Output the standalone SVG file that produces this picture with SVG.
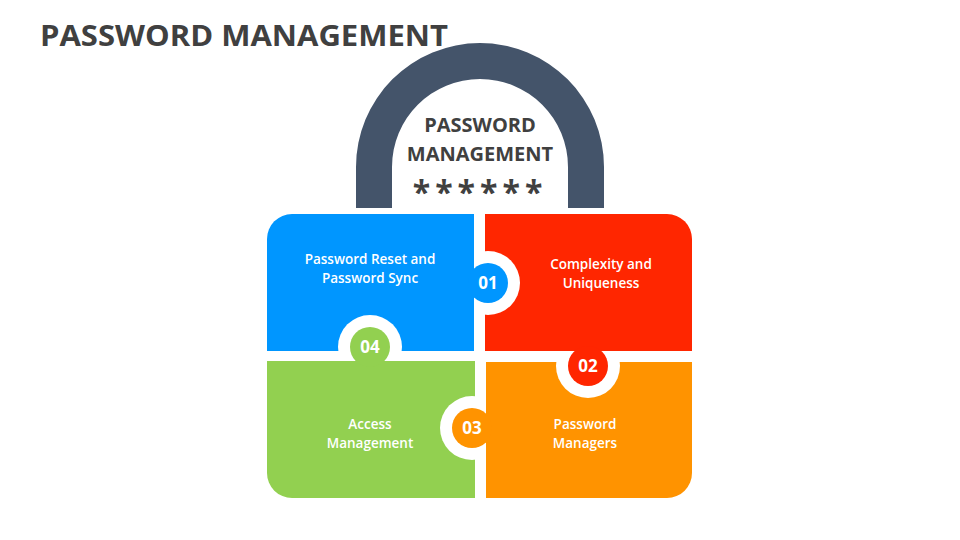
<svg xmlns="http://www.w3.org/2000/svg" width="960" height="540" viewBox="0 0 960 540">
<style>
.t{font-family:"Open Sans","Liberation Sans",sans-serif;font-weight:bold;fill:#404040;text-anchor:middle}
.l{font-family:"Open Sans","Liberation Sans",sans-serif;font-weight:600;fill:#fff;font-size:13.5px;text-anchor:middle}
.n{font-family:"Open Sans","Liberation Sans",sans-serif;font-weight:bold;fill:#fff;font-size:17px;text-anchor:middle}
</style>
<rect width="960" height="540" fill="#fff"/>
<text x="40" y="46" class="t" style="text-anchor:start;font-size:29px" textLength="408" lengthAdjust="spacingAndGlyphs">PASSWORD MANAGEMENT</text>
<g id="shackle">
<path d="M356 208 V167 A124 124 0 0 1 604 167 V208 H568 V167 A88 88 0 0 0 392 167 V208 Z" fill="#44546A"/>
<text x="480" y="132" class="t" style="font-size:20px">PASSWORD</text>
<text x="480" y="161" class="t" style="font-size:20px">MANAGEMENT</text>
<text x="480" y="204" class="t" style="font-size:32px;letter-spacing:5px">******</text>
</g>
<g id="quadrants">
<path id="q-blue" d="M267 351 V239 A25 25 0 0 1 292 214 H474 V351 Z" fill="#0096FF"/>
<path id="q-red" d="M485 214 H667 A25 25 0 0 1 692 239 V351 H485 Z" fill="#FF2600"/>
<path id="q-green" d="M267 361 H475 V498 H292 A25 25 0 0 1 267 473 Z" fill="#92D050"/>
<path id="q-orange" d="M486 362 H692 V473 A25 25 0 0 1 667 498 H486 Z" fill="#FF9300"/>
</g>
<g id="node-01">
<circle cx="488" cy="283" r="32" fill="#fff"/>
<rect x="455" y="250" width="19" height="66" fill="#0096FF"/>
<circle cx="488" cy="283" r="20" fill="#0096FF"/>
<text x="488" y="289" class="n">01</text>
<text x="370" y="264" class="l">Password Reset and</text>
<text x="370" y="283" class="l">Password Sync</text>
</g>
<g id="node-02">
<circle cx="588" cy="366" r="32" fill="#fff"/>
<rect x="555" y="333" width="66" height="18" fill="#FF2600"/>
<circle cx="588" cy="366" r="20" fill="#FF2600"/>
<text x="588" y="372" class="n">02</text>
<text x="601" y="269" class="l">Complexity and</text>
<text x="601" y="288" class="l">Uniqueness</text>
</g>
<g id="node-03">
<circle cx="472" cy="428" r="32" fill="#fff"/>
<rect x="486" y="395" width="19" height="66" fill="#FF9300"/>
<circle cx="472" cy="428" r="20" fill="#FF9300"/>
<text x="472" y="434" class="n">03</text>
<text x="585" y="429" class="l">Password</text>
<text x="585" y="448" class="l">Managers</text>
</g>
<g id="node-04">
<circle cx="370" cy="347" r="32" fill="#fff"/>
<rect x="337" y="361" width="66" height="19" fill="#92D050"/>
<circle cx="370" cy="347" r="20" fill="#92D050"/>
<text x="370" y="353" class="n">04</text>
<text x="370" y="429" class="l">Access</text>
<text x="370" y="448" class="l">Management</text>
</g>
<g id="connectors"/>
</svg>
